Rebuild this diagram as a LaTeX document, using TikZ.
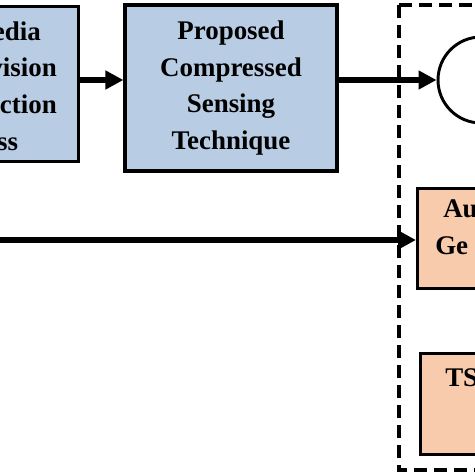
\documentclass[tikz,border=0pt]{standalone}
\usepackage{fontspec}
\setmainfont{Liberation Serif}
\usetikzlibrary{arrows.meta}
\definecolor{boxblue}{HTML}{B8CCE4}
\definecolor{boxorange}{HTML}{F8CBAD}
\tikzset{
  bluebox/.style={draw=black, line width=2.4pt, fill=boxblue, inner sep=0pt},
  orangebox/.style={draw=black, line width=2.4pt, fill=boxorange, inner sep=0pt},
  flow/.style={line width=4pt, -{Triangle[length=13.5pt,width=13.5pt]}},
  dashframe/.style={line width=2.3pt, dash pattern={on 10pt off 5pt}},
  boxtext/.style={inner sep=0pt, font=\fontsize{20.2}{27.4}\selectfont\bfseries}
}
\begin{document}
\begin{tikzpicture}[x=0.75pt,y=0.75pt,yscale=-1,xscale=1]
        \useasboundingbox (0,0) rectangle (474,474);
        \coordinate (row) at (0,80);
        \coordinate (start) at (-20,240);

        %Shape: Dashed frame
        \draw [dashframe] (399,5) -- (399,470) -- (560,470);
        \draw [dashframe] (399,5) -- (560,5);

        %Shape: Rectangle [left box]
        \node [bluebox, anchor=north east, minimum width=150pt, minimum height=116.25pt] (media) at (80,5) {};
        %Shape: Rectangle [technique]
        \node [bluebox, minimum width=159pt, minimum height=124.5pt] (cst) at (231,88) {};
        %Shape: Circle
        \node [draw=black, line width=2.2pt, fill=white, circle, minimum size=64.5pt, inner sep=0pt] (circ) at (481,80) {};
        %Shape: Rectangle [generation]
        \node [orangebox, anchor=north west, minimum width=90pt, minimum height=75pt] (autogen) at (416,187) {};
        %Shape: Rectangle [TS box]
        \node [orangebox, anchor=north west, minimum width=90pt, minimum height=75.75pt] (tsbox) at (419,352) {};

        %Arrows
        \draw [flow] (media.east |- row) -- (cst.west |- row);
        \draw [flow] (cst.east |- row) -- (circ.west);
        \draw [flow] (start) -- (autogen.west |- start);

        % Text Node
        \node [boxtext, anchor=east, align=right] (mediatext) at (57,86) {edia\hspace*{12pt}\\vision\\ction\hspace*{4.5pt}\\ss\hspace*{29pt}};
        % Text Node
        \node [boxtext, align=center] (csttext) at (231,88) {Proposed\\Compressed\\Sensing\\Technique};
        % Text Node
        \node [boxtext, anchor=west, align=left] (autogentext) at (435,227) {\hspace*{6pt}Au\\Ge};
        % Text Node
        \node [boxtext, anchor=west] (tstext) at (445,378) {TS};
\end{tikzpicture}
\end{document}
